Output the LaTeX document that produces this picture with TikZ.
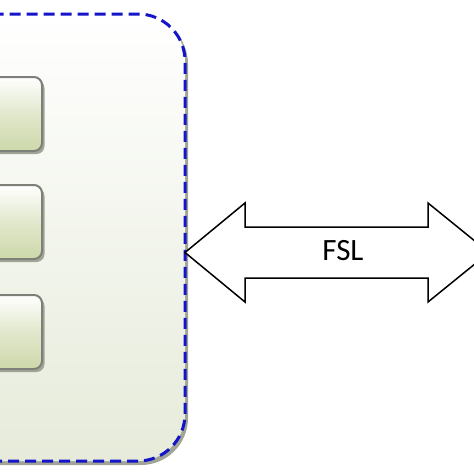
\documentclass[tikz,border=0pt]{standalone}
\usepackage{fontspec}
\setmainfont{Carlito}
\usetikzlibrary{shadows}
\definecolor{dashblue}{RGB}{20,20,200}
\definecolor{bigbot}{RGB}{230,235,218}
\definecolor{smallbot}{RGB}{205,216,170}
\definecolor{boxedge}{RGB}{125,128,120}
\definecolor{shadowc}{RGB}{160,165,150}
\begin{document}
\begin{tikzpicture}[x=1pt,y=-1pt,
  bigshadow/.style={fill=shadowc, rounded corners=47pt},
  bigbox/.style={top color=white, bottom color=bigbot, rounded corners=47pt},
  bigedge/.style={draw=dashblue, line width=3pt, dash pattern=on 11pt off 6pt, rounded corners=47pt},
  smallbox/.style={draw=boxedge, line width=2pt, rounded corners=8pt, top color=white, bottom color=smallbot, middle color=white!40!smallbot, minimum width=90pt, minimum height=74pt, inner sep=0pt, anchor=north east, drop shadow={shadow xshift=2.5pt, shadow yshift=-3pt, fill=shadowc, opacity=1}},
  fslarrow/.style={draw=black, line width=1.5pt, fill=white, line join=miter},
  lbl/.style={font=\fontsize{31}{35}\selectfont, inner sep=0pt}
]
\useasboundingbox (0,0) rectangle (474,474);
\clip (0,0) rectangle (474,474);
\fill[white] (0,0) rectangle (474,474);
% big container
\fill[bigshadow] (-57,17) rectangle (188,465);
\shade[bigbox] (-60,14) rectangle (185,461);
\draw[bigedge] (-60,461) -- (185,461) -- (185,14) -- (-60,14);
% small boxes
\node[smallbox] (b1) at (43,76) {};
\node[smallbox] (b2) at (43,184) {};
\node[smallbox] (b3) at (43,294) {};
% FSL arrow
\coordinate (ltip) at (185,252.5);
\coordinate (rtip) at (489,252.5);
\draw[fslarrow] (ltip) -- (245,203) -- (245,227) -- (428,227) -- (428,203) -- (rtip) -- (428,302) -- (428,278) -- (245,278) -- (245,302) -- cycle;
\node[lbl] (fsl) at (343,251) {FSL};
\end{tikzpicture}
\end{document}
